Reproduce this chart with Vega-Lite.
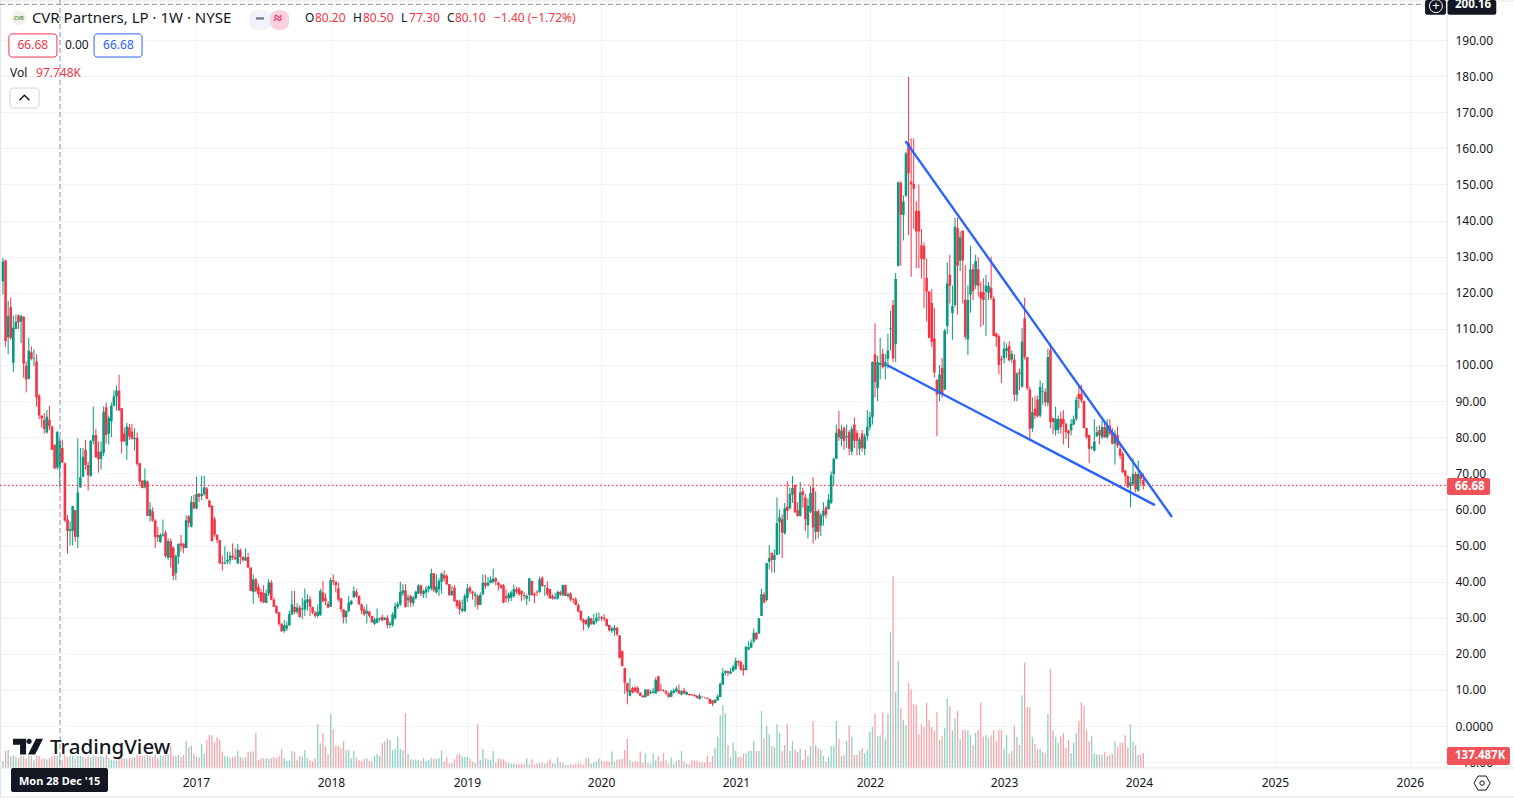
{
"$schema":"https://vega.github.io/schema/vega-lite/v6.json",
"width":1447,"height":768,
"autosize":{"type":"none"},
"padding":{"left":0,"top":0,"right":67,"bottom":41},
"background":"#ffffff",
"config":{"view":{"stroke":null},"font":"Noto Sans","text":{"font":"Noto Sans"}},
"datasets":{
"bars":[
{"w":0,"o":123.2,"h":129.7,"l":119.5,"c":128.7,"v":65},{"w":1,"o":129,"h":129.2,"l":105,"c":106.6,"v":155},{"w":2,"o":107.7,"h":117.7,"l":103,"c":113.5,"v":165},{"w":3,"o":116,"h":118.6,"l":107,"c":107.5,"v":110},{"w":4,"o":100.6,"h":113.7,"l":98,"c":110.3,"v":115},{"w":5,"o":110,"h":114,"l":110,"c":112,"v":105},{"w":6,"o":113.7,"h":114,"l":110,"c":111.8,"v":90},{"w":7,"o":112,"h":114,"l":106,"c":113.5,"v":115},{"w":8,"o":113.4,"h":113.4,"l":96.5,"c":100.4,"v":110},{"w":9,"o":99.8,"h":101,"l":92.4,"c":96,"v":90},
{"w":10,"o":96.2,"h":107.5,"l":96,"c":104,"v":115},{"w":11,"o":103.5,"h":105.2,"l":101.3,"c":101.7,"v":110},{"w":12,"o":101.6,"h":104.3,"l":99.6,"c":101.8,"v":70},{"w":13,"o":101,"h":103,"l":88.5,"c":91,"v":110},{"w":14,"o":91.5,"h":92,"l":85,"c":86,"v":110},{"w":15,"o":86,"h":86,"l":82.7,"c":85.2,"v":80},{"w":16,"o":84.8,"h":86.7,"l":81,"c":82.3,"v":90},{"w":17,"o":81.3,"h":87.5,"l":81,"c":85.7,"v":80},{"w":18,"o":84.8,"h":88.7,"l":82,"c":83,"v":90},{"w":19,"o":83,"h":83,"l":76.5,"c":76.5,"v":110},
{"w":20,"o":77.9,"h":77.9,"l":71.3,"c":71.3,"v":115},{"w":21,"o":71.6,"h":81.7,"l":71,"c":81.4,"v":110},{"w":22,"o":71.5,"h":80,"l":66,"c":79,"v":115},{"w":23,"o":77,"h":79.3,"l":72.8,"c":73,"v":70},{"w":24,"o":72.8,"h":73,"l":56.5,"c":56.9,"v":120},{"w":25,"o":57.2,"h":58.4,"l":47.8,"c":54,"v":100},{"w":26,"o":54,"h":56.7,"l":50,"c":54.5,"v":115},{"w":27,"o":54.1,"h":61,"l":50,"c":60.9,"v":110},{"w":28,"o":59.8,"h":59.8,"l":51,"c":52.4,"v":80},{"w":29,"o":52.4,"h":79.7,"l":49.3,"c":64.7,"v":110},
{"w":30,"o":66.1,"h":77,"l":66,"c":68.9,"v":110},{"w":31,"o":69,"h":77,"l":68.9,"c":74.6,"v":105},{"w":32,"o":76.5,"h":79.3,"l":71,"c":72.3,"v":90},{"w":33,"o":72.3,"h":73.2,"l":65.2,"c":69.5,"v":110},{"w":34,"o":69.3,"h":79.2,"l":69,"c":79,"v":100},{"w":35,"o":79,"h":88.5,"l":78,"c":80.6,"v":115},{"w":36,"o":80.6,"h":82.3,"l":74.2,"c":74.5,"v":110},{"w":37,"o":76,"h":78.8,"l":70.2,"c":73.9,"v":100},{"w":38,"o":74,"h":78.8,"l":71,"c":76,"v":110},{"w":39,"o":75.7,"h":88.5,"l":74.8,"c":87,"v":95},
{"w":40,"o":88.3,"h":89.6,"l":78.3,"c":80.6,"v":120},{"w":41,"o":81,"h":86,"l":78,"c":85.3,"v":90},{"w":42,"o":84.4,"h":89.6,"l":80,"c":88.7,"v":75},{"w":43,"o":88.7,"h":93,"l":88.5,"c":91.3,"v":70},{"w":44,"o":91.3,"h":94.3,"l":87.4,"c":92.9,"v":70},{"w":45,"o":92.9,"h":97.3,"l":87.4,"c":87.4,"v":85},{"w":46,"o":88,"h":88,"l":75.5,"c":78.8,"v":90},{"w":47,"o":81,"h":82.7,"l":78.8,"c":78.8,"v":90},{"w":48,"o":77.7,"h":84,"l":73.7,"c":83,"v":85},{"w":49,"o":82.7,"h":83.7,"l":79.3,"c":80.2,"v":90},
{"w":50,"o":81.6,"h":83.7,"l":79.3,"c":79.6,"v":90},{"w":51,"o":79.5,"h":82.5,"l":76.3,"c":79.8,"v":100},{"w":52,"o":79.8,"h":81.3,"l":72,"c":72.6,"v":120},{"w":53,"o":72.8,"h":72.8,"l":66.7,"c":67.7,"v":110},{"w":54,"o":68,"h":68,"l":65.9,"c":65.9,"v":115},{"w":55,"o":66.1,"h":71.4,"l":65.8,"c":68.1,"v":110},{"w":56,"o":67.7,"h":68,"l":58.2,"c":58.2,"v":120},{"w":57,"o":58.2,"h":62,"l":56.6,"c":60,"v":110},{"w":58,"o":59.5,"h":60.6,"l":56.6,"c":56.9,"v":100},{"w":59,"o":56.9,"h":57.3,"l":49.3,"c":52.4,"v":120},
{"w":60,"o":52.9,"h":55.2,"l":51,"c":52.2,"v":90},{"w":61,"o":51,"h":53.4,"l":50.7,"c":52.9,"v":115},{"w":62,"o":52.7,"h":57.2,"l":52.4,"c":53.1,"v":110},{"w":63,"o":53.6,"h":54.2,"l":46.6,"c":47.1,"v":120},{"w":64,"o":46.6,"h":52,"l":46,"c":51.2,"v":120},{"w":65,"o":51.2,"h":52,"l":43.9,"c":46.6,"v":200},{"w":66,"o":49.4,"h":49.8,"l":40.4,"c":41.6,"v":110},{"w":67,"o":42.4,"h":47.5,"l":40.4,"c":47,"v":110},{"w":68,"o":46.9,"h":50.6,"l":44.8,"c":50.4,"v":120},{"w":69,"o":50.6,"h":52.9,"l":48.3,"c":50,"v":100},
{"w":70,"o":50.5,"h":50.6,"l":47.9,"c":49.3,"v":120},{"w":71,"o":49.3,"h":58.4,"l":49.3,"c":57,"v":245},{"w":72,"o":58.1,"h":58.4,"l":55,"c":56.3,"v":190},{"w":73,"o":55.2,"h":63.7,"l":55,"c":62.1,"v":205},{"w":74,"o":62,"h":64,"l":60,"c":60.3,"v":130},{"w":75,"o":60.3,"h":69,"l":60,"c":64.3,"v":100},{"w":76,"o":64.4,"h":64.4,"l":62,"c":63.5,"v":95},{"w":77,"o":63.7,"h":69.3,"l":62.5,"c":64.3,"v":215},{"w":78,"o":64.2,"h":69.3,"l":63.8,"c":66.1,"v":130},{"w":79,"o":65.8,"h":66.2,"l":62.9,"c":62.9,"v":255},
{"w":80,"o":62.4,"h":62.7,"l":60.5,"c":60.7,"v":300},{"w":81,"o":61,"h":61.2,"l":51,"c":51.3,"v":300},{"w":82,"o":57.3,"h":58,"l":52.4,"c":53,"v":235},{"w":83,"o":53,"h":53,"l":50.7,"c":51.5,"v":280},{"w":84,"o":51.5,"h":51.5,"l":45,"c":45,"v":255},{"w":85,"o":45.3,"h":47.3,"l":43,"c":45,"v":150},{"w":86,"o":45,"h":49.8,"l":44.8,"c":45.3,"v":110},{"w":87,"o":45.5,"h":48.3,"l":44.8,"c":46,"v":105},{"w":88,"o":45.9,"h":48.3,"l":44.8,"c":47.2,"v":90},{"w":89,"o":47.2,"h":50.6,"l":46,"c":46.7,"v":100},
{"w":90,"o":46.7,"h":49.2,"l":46,"c":46.2,"v":110},{"w":91,"o":45,"h":50.4,"l":45,"c":48.9,"v":155},{"w":92,"o":48.7,"h":49.2,"l":44.8,"c":46.8,"v":100},{"w":93,"o":46.8,"h":47,"l":45.5,"c":46,"v":90},{"w":94,"o":45.8,"h":49.2,"l":45.7,"c":46.7,"v":100},{"w":95,"o":46.8,"h":48,"l":43.7,"c":43.9,"v":145},{"w":96,"o":43.9,"h":43.9,"l":37.4,"c":37.4,"v":150},{"w":97,"o":37.1,"h":42,"l":33.9,"c":40.6,"v":150},{"w":98,"o":40.6,"h":41,"l":37,"c":37.5,"v":320},{"w":99,"o":38.5,"h":39.5,"l":35.5,"c":36.5,"v":75},
{"w":100,"o":37.1,"h":38,"l":34,"c":34.6,"v":90},{"w":101,"o":36.9,"h":39,"l":34,"c":34.3,"v":90},{"w":102,"o":34.1,"h":37.8,"l":34,"c":36.7,"v":90},{"w":103,"o":36.7,"h":40.6,"l":36,"c":39.8,"v":85},{"w":104,"o":39.7,"h":40.4,"l":34.8,"c":35,"v":90},{"w":105,"o":35,"h":35.5,"l":33,"c":33,"v":100},{"w":106,"o":33.2,"h":33.4,"l":31,"c":31.3,"v":90},{"w":107,"o":31.5,"h":31.5,"l":27.7,"c":28.3,"v":110},{"w":108,"o":28.3,"h":28.5,"l":26,"c":26.3,"v":170},{"w":109,"o":26.3,"h":29.3,"l":25.8,"c":27.9,"v":90},
{"w":110,"o":27,"h":29,"l":26.3,"c":27.9,"v":65},{"w":111,"o":27.9,"h":32,"l":27.7,"c":31,"v":70},{"w":112,"o":30.9,"h":37.4,"l":30.7,"c":33.7,"v":155},{"w":113,"o":33,"h":37.4,"l":31,"c":31.6,"v":145},{"w":114,"o":31.6,"h":34,"l":31,"c":32.8,"v":70},{"w":115,"o":32.8,"h":33.5,"l":30,"c":30.2,"v":110},{"w":116,"o":32.3,"h":35.5,"l":29.6,"c":32.6,"v":100},{"w":117,"o":32.3,"h":38.1,"l":30.5,"c":34.8,"v":165},{"w":118,"o":34.2,"h":36.5,"l":31.9,"c":35.1,"v":90},{"w":119,"o":35.1,"h":36,"l":30.5,"c":33,"v":70},
{"w":120,"o":33,"h":33,"l":31,"c":31.4,"v":60},{"w":121,"o":31.4,"h":31.9,"l":30,"c":30.5,"v":90},{"w":122,"o":30.5,"h":33.7,"l":30,"c":31.7,"v":400},{"w":123,"o":30.7,"h":38,"l":30.5,"c":37.4,"v":225},{"w":124,"o":37,"h":40.2,"l":34.2,"c":34.6,"v":320},{"w":125,"o":35.5,"h":36.7,"l":33.5,"c":34.6,"v":200},{"w":126,"o":33.9,"h":34.6,"l":32.6,"c":32.8,"v":125},{"w":127,"o":33,"h":41,"l":33,"c":40.4,"v":490},{"w":128,"o":40.4,"h":42,"l":39,"c":40,"v":355},{"w":129,"o":40,"h":40,"l":37,"c":39,"v":200},
{"w":130,"o":38.1,"h":39.7,"l":34.5,"c":35,"v":200},{"w":131,"o":35.4,"h":35.4,"l":31.5,"c":32.3,"v":180},{"w":132,"o":32.3,"h":32.3,"l":28.4,"c":30,"v":245},{"w":133,"o":30.2,"h":32,"l":28.4,"c":31.9,"v":165},{"w":134,"o":31.9,"h":36,"l":31.5,"c":34.2,"v":165},{"w":135,"o":33.7,"h":35,"l":33.5,"c":34.6,"v":90},{"w":136,"o":35.7,"h":38.6,"l":35.5,"c":37.4,"v":155},{"w":137,"o":37.2,"h":37.9,"l":35.5,"c":36,"v":90},{"w":138,"o":36.1,"h":36.1,"l":33.5,"c":33.7,"v":70},{"w":139,"o":33.7,"h":33.9,"l":31,"c":32,"v":60},
{"w":140,"o":32.3,"h":33,"l":30.5,"c":30.9,"v":85},{"w":141,"o":31.1,"h":33.7,"l":28.4,"c":31.9,"v":90},{"w":142,"o":31.7,"h":32,"l":30,"c":30.5,"v":65},{"w":143,"o":30.5,"h":30.5,"l":28.7,"c":28.7,"v":60},{"w":144,"o":28.3,"h":30,"l":28,"c":29.5,"v":110},{"w":145,"o":28.6,"h":32.6,"l":28.4,"c":29.8,"v":130},{"w":146,"o":29.6,"h":30,"l":29,"c":29.9,"v":110},{"w":147,"o":30.2,"h":30.9,"l":29,"c":29.3,"v":225},{"w":148,"o":29.4,"h":30.2,"l":29.3,"c":30,"v":245},{"w":149,"o":30,"h":30.7,"l":27,"c":28,"v":270},
{"w":150,"o":27.9,"h":29,"l":27.2,"c":28.4,"v":255},{"w":151,"o":28,"h":31.5,"l":27.5,"c":30.9,"v":165},{"w":152,"o":29.8,"h":34.2,"l":29.5,"c":33.2,"v":175},{"w":153,"o":33,"h":34.5,"l":32.5,"c":33.8,"v":285},{"w":154,"o":33.7,"h":40,"l":33.2,"c":37.2,"v":175},{"w":155,"o":36.7,"h":39.3,"l":36,"c":37.6,"v":165},{"w":156,"o":37.6,"h":39.3,"l":32.8,"c":33,"v":500},{"w":157,"o":34.8,"h":36.5,"l":33,"c":35.6,"v":130},{"w":158,"o":36,"h":36.4,"l":33,"c":34.2,"v":80},{"w":159,"o":34,"h":36,"l":33.2,"c":35.6,"v":75},
{"w":160,"o":35.4,"h":37.5,"l":35,"c":37.2,"v":80},{"w":161,"o":36.7,"h":39.3,"l":36.5,"c":38.9,"v":75},{"w":162,"o":38.9,"h":39.2,"l":36,"c":36.7,"v":65},{"w":163,"o":36.5,"h":37.8,"l":35.5,"c":37.4,"v":90},{"w":164,"o":37,"h":38.8,"l":35.5,"c":37.9,"v":65},{"w":165,"o":37.9,"h":39,"l":37,"c":38.6,"v":70},{"w":166,"o":38.1,"h":43.6,"l":37.5,"c":42.3,"v":90},{"w":167,"o":42.3,"h":42.4,"l":37,"c":37.6,"v":85},{"w":168,"o":37,"h":42,"l":36.7,"c":38.6,"v":80},{"w":169,"o":37.9,"h":41,"l":36,"c":40.2,"v":90},
{"w":170,"o":40,"h":42.5,"l":36.7,"c":42.2,"v":160},{"w":171,"o":41.8,"h":43.1,"l":40,"c":40.9,"v":60},{"w":172,"o":41.6,"h":42,"l":39,"c":39.3,"v":100},{"w":173,"o":39.3,"h":39.3,"l":36,"c":36.3,"v":40},{"w":174,"o":36.3,"h":38.8,"l":36,"c":37.4,"v":45},{"w":175,"o":38.3,"h":39,"l":34.4,"c":34.6,"v":80},{"w":176,"o":34.8,"h":35,"l":32.5,"c":33.2,"v":120},{"w":177,"o":34.4,"h":35,"l":30.9,"c":32.3,"v":130},{"w":178,"o":31.9,"h":35,"l":31.5,"c":32.5,"v":105},{"w":179,"o":31.9,"h":36.7,"l":31.5,"c":36,"v":100},
{"w":180,"o":35.5,"h":39.3,"l":34.5,"c":38.1,"v":100},{"w":181,"o":38.3,"h":38.8,"l":36.5,"c":37.2,"v":85},{"w":182,"o":37.2,"h":37.5,"l":35,"c":36.7,"v":60},{"w":183,"o":36,"h":37.2,"l":33,"c":36.5,"v":45},{"w":184,"o":36,"h":36.5,"l":32.3,"c":33.5,"v":400},{"w":185,"o":33.5,"h":37,"l":33.5,"c":36.3,"v":70},{"w":186,"o":36.5,"h":42,"l":36.2,"c":39.7,"v":175},{"w":187,"o":39.7,"h":42,"l":38,"c":38.8,"v":90},{"w":188,"o":38.9,"h":41.3,"l":38.7,"c":39.7,"v":80},{"w":189,"o":39.7,"h":41.5,"l":39.5,"c":40.5,"v":70},
{"w":190,"o":39.9,"h":43.6,"l":39.5,"c":40.8,"v":155},{"w":191,"o":40.9,"h":41.2,"l":39,"c":40,"v":50},{"w":192,"o":39.7,"h":40,"l":37.5,"c":39,"v":85},{"w":193,"o":39,"h":39.3,"l":38,"c":38.3,"v":85},{"w":194,"o":39,"h":39.3,"l":34,"c":34.2,"v":80},{"w":195,"o":36,"h":37.9,"l":34.2,"c":35.4,"v":60},{"w":196,"o":35.3,"h":37,"l":34.2,"c":36.5,"v":45},{"w":197,"o":35.6,"h":37.5,"l":34.6,"c":37,"v":40},{"w":198,"o":36,"h":39.2,"l":35.5,"c":37.9,"v":40},{"w":199,"o":37.9,"h":38.6,"l":36.5,"c":37.2,"v":35},
{"w":200,"o":38.1,"h":38.5,"l":36,"c":36.5,"v":35},{"w":201,"o":37.4,"h":37.6,"l":34.6,"c":36.5,"v":40},{"w":202,"o":36.3,"h":37,"l":35,"c":36,"v":35},{"w":203,"o":35.3,"h":36.5,"l":33.5,"c":36,"v":90},{"w":204,"o":36.3,"h":41,"l":34.5,"c":40.9,"v":35},{"w":205,"o":40.2,"h":40.2,"l":36,"c":36.3,"v":80},{"w":206,"o":36.6,"h":37,"l":34,"c":36.2,"v":30},{"w":207,"o":37.2,"h":37.6,"l":36,"c":37,"v":40},{"w":208,"o":37.1,"h":41.4,"l":36.9,"c":40.6,"v":45},{"w":209,"o":41.1,"h":41.5,"l":38.5,"c":38.8,"v":50},
{"w":210,"o":38.8,"h":39,"l":36,"c":39,"v":40},{"w":211,"o":38.3,"h":40,"l":36,"c":36.5,"v":50},{"w":212,"o":37.9,"h":38,"l":35.3,"c":35.3,"v":80},{"w":213,"o":36,"h":36.5,"l":35,"c":35.3,"v":45},{"w":214,"o":35.3,"h":36.8,"l":35,"c":35.7,"v":40},{"w":215,"o":35.3,"h":37.5,"l":35,"c":37.1,"v":95},{"w":216,"o":37.1,"h":37.5,"l":36,"c":36.5,"v":55},{"w":217,"o":36.3,"h":39.2,"l":36,"c":39,"v":45},{"w":218,"o":39,"h":39.2,"l":36,"c":36,"v":30},{"w":219,"o":36,"h":37,"l":35.5,"c":36.5,"v":30},
{"w":220,"o":36.7,"h":37,"l":34.5,"c":35.1,"v":35},{"w":221,"o":35.2,"h":35.5,"l":34,"c":35,"v":30},{"w":222,"o":35.1,"h":35.7,"l":33.5,"c":33.5,"v":40},{"w":223,"o":33.5,"h":34,"l":31.5,"c":31.7,"v":40},{"w":224,"o":31.9,"h":32,"l":29,"c":29.4,"v":40},{"w":225,"o":29.4,"h":29.8,"l":26.5,"c":28.6,"v":30},{"w":226,"o":29.4,"h":29.6,"l":28,"c":28.2,"v":90},{"w":227,"o":27.5,"h":30.5,"l":27,"c":30,"v":90},{"w":228,"o":29.8,"h":30,"l":28,"c":28.2,"v":40},{"w":229,"o":28.2,"h":31.1,"l":28,"c":29.1,"v":50},
{"w":230,"o":29,"h":31.4,"l":28.5,"c":30,"v":60},{"w":231,"o":30,"h":31.4,"l":29,"c":30.2,"v":90},{"w":232,"o":30.2,"h":30.5,"l":29,"c":29.8,"v":70},{"w":233,"o":30,"h":31,"l":29,"c":29.6,"v":60},{"w":234,"o":29.6,"h":29.8,"l":27.5,"c":27.7,"v":65},{"w":235,"o":28,"h":28,"l":26.2,"c":26.5,"v":55},{"w":236,"o":26.4,"h":27.6,"l":25.8,"c":27,"v":150},{"w":237,"o":26.5,"h":28,"l":25,"c":27.2,"v":60},{"w":238,"o":27.2,"h":27.5,"l":24.9,"c":25.4,"v":75},{"w":239,"o":25.1,"h":25.1,"l":18.7,"c":18.9,"v":80},
{"w":240,"o":20.7,"h":21,"l":16.5,"c":16.6,"v":85},{"w":241,"o":16,"h":16.2,"l":8.9,"c":12,"v":165},{"w":242,"o":11.9,"h":12,"l":6,"c":9.5,"v":265},{"w":243,"o":8.4,"h":13.3,"l":8.2,"c":10,"v":75},{"w":244,"o":10.5,"h":10.8,"l":9,"c":9.3,"v":55},{"w":245,"o":10.6,"h":11,"l":9.3,"c":9.6,"v":60},{"w":246,"o":10.6,"h":11,"l":9,"c":9.2,"v":55},{"w":247,"o":9.2,"h":9.4,"l":8.2,"c":8.4,"v":150},{"w":248,"o":8.4,"h":8.6,"l":7.8,"c":8,"v":50},{"w":249,"o":8,"h":10.2,"l":7.9,"c":10.1,"v":130},
{"w":250,"o":10.1,"h":10.2,"l":8.4,"c":8.4,"v":50},{"w":251,"o":9.1,"h":10,"l":8.8,"c":9.4,"v":40},{"w":252,"o":9.2,"h":10.5,"l":9,"c":9.6,"v":135},{"w":253,"o":9,"h":13.5,"l":9,"c":12.7,"v":70},{"w":254,"o":13.8,"h":13.8,"l":9.5,"c":9.6,"v":110},{"w":255,"o":10.1,"h":11.7,"l":9.7,"c":9.9,"v":60},{"w":256,"o":9.9,"h":10.2,"l":9.5,"c":9.7,"v":135},{"w":257,"o":9.6,"h":10,"l":8.6,"c":9,"v":70},{"w":258,"o":9,"h":9.3,"l":7.8,"c":8.1,"v":40},{"w":259,"o":8.1,"h":10,"l":8,"c":9.6,"v":95},
{"w":260,"o":9.2,"h":10.4,"l":9,"c":9.8,"v":40},{"w":261,"o":9.6,"h":11,"l":9.4,"c":10.4,"v":60},{"w":262,"o":9.9,"h":11.5,"l":8.8,"c":9,"v":75},{"w":263,"o":8.7,"h":10,"l":8.5,"c":9.6,"v":155},{"w":264,"o":9.9,"h":10.6,"l":8.8,"c":9,"v":60},{"w":265,"o":8.7,"h":9.6,"l":8.6,"c":9.4,"v":40},{"w":266,"o":8.9,"h":9,"l":8.4,"c":8.6,"v":35},{"w":267,"o":8.7,"h":8.9,"l":8.3,"c":8.5,"v":70},{"w":268,"o":8.6,"h":8.9,"l":8.1,"c":8.3,"v":70},{"w":269,"o":8.4,"h":8.5,"l":7.6,"c":7.8,"v":65},
{"w":270,"o":7.5,"h":9,"l":7.3,"c":8.4,"v":50},{"w":271,"o":8.1,"h":8.2,"l":7.8,"c":8,"v":55},{"w":272,"o":7.9,"h":8,"l":7.6,"c":7.8,"v":50},{"w":273,"o":7.8,"h":7.9,"l":7.4,"c":7.6,"v":110},{"w":274,"o":7.5,"h":7.6,"l":6.2,"c":6.2,"v":55},{"w":275,"o":7.1,"h":7.2,"l":5.5,"c":6.2,"v":110},{"w":276,"o":6.4,"h":7.4,"l":6.2,"c":7.3,"v":185},{"w":277,"o":7.1,"h":8.8,"l":7,"c":8.2,"v":285},{"w":278,"o":8,"h":12,"l":8,"c":11.7,"v":485},{"w":279,"o":11.5,"h":16,"l":11.4,"c":14.7,"v":575},
{"w":280,"o":14.7,"h":15.5,"l":14,"c":15.2,"v":500},{"w":281,"o":15.2,"h":15.4,"l":13.8,"c":14.7,"v":210},{"w":282,"o":14.5,"h":16,"l":14.3,"c":15.1,"v":100},{"w":283,"o":15.2,"h":17,"l":15,"c":16.4,"v":230},{"w":284,"o":15.8,"h":18.9,"l":15.5,"c":18,"v":155},{"w":285,"o":18,"h":18.2,"l":16.5,"c":17.6,"v":100},{"w":286,"o":17.7,"h":18.2,"l":15.3,"c":15.6,"v":100},{"w":287,"o":16,"h":17,"l":14,"c":15.4,"v":130},{"w":288,"o":15.5,"h":22,"l":15.4,"c":22,"v":135},{"w":289,"o":21.2,"h":23.5,"l":21,"c":21.8,"v":155},
{"w":290,"o":21.7,"h":24,"l":21.5,"c":23.1,"v":155},{"w":291,"o":23.4,"h":27,"l":23,"c":25.8,"v":245},{"w":292,"o":25.8,"h":26,"l":23.8,"c":24.1,"v":155},{"w":293,"o":25.6,"h":30,"l":25.5,"c":29.8,"v":155},{"w":294,"o":30.5,"h":38,"l":30.5,"c":36.5,"v":520},{"w":295,"o":36.5,"h":37.1,"l":34,"c":34.2,"v":275},{"w":296,"o":34.9,"h":45.2,"l":34.5,"c":45.1,"v":385},{"w":297,"o":45.5,"h":50.1,"l":43.4,"c":46.5,"v":310},{"w":298,"o":48,"h":48,"l":42.5,"c":46,"v":200},{"w":299,"o":46,"h":49,"l":42.5,"c":47.3,"v":190},
{"w":300,"o":47.4,"h":63.3,"l":47.3,"c":56.2,"v":400},{"w":301,"o":56.4,"h":60,"l":47.6,"c":57.8,"v":320},{"w":302,"o":57.3,"h":58.6,"l":46.5,"c":53.6,"v":155},{"w":303,"o":53.4,"h":61.8,"l":53,"c":60.3,"v":210},{"w":304,"o":60.8,"h":67.7,"l":57,"c":59.6,"v":400},{"w":305,"o":60.3,"h":66,"l":60,"c":64.3,"v":155},{"w":306,"o":64.1,"h":69.2,"l":61.8,"c":65.9,"v":245},{"w":307,"o":66.7,"h":66.9,"l":59,"c":59.2,"v":165},{"w":308,"o":59.8,"h":62,"l":58,"c":58.2,"v":145},{"w":309,"o":58.2,"h":67.6,"l":58,"c":64.7,"v":175},
{"w":310,"o":65,"h":66,"l":60.5,"c":64,"v":75},{"w":311,"o":63.3,"h":64.3,"l":54,"c":57.3,"v":165},{"w":312,"o":55.6,"h":63,"l":52,"c":61,"v":110},{"w":313,"o":59.4,"h":66.5,"l":59,"c":64.5,"v":200},{"w":314,"o":66,"h":68.9,"l":50.5,"c":55,"v":430},{"w":315,"o":53.8,"h":65,"l":51.5,"c":59.5,"v":210},{"w":316,"o":59.5,"h":60,"l":52,"c":53.8,"v":180},{"w":317,"o":55.5,"h":59,"l":52.7,"c":58.4,"v":165},{"w":318,"o":58.2,"h":62,"l":55.5,"c":59.6,"v":110},{"w":319,"o":60.5,"h":61,"l":57.5,"c":58.5,"v":55},
{"w":320,"o":60.1,"h":64.3,"l":60,"c":62.7,"v":100},{"w":321,"o":61.8,"h":70.5,"l":61.5,"c":69.5,"v":200},{"w":322,"o":69.8,"h":74.4,"l":66.5,"c":74,"v":200},{"w":323,"o":74,"h":83.5,"l":74,"c":81.2,"v":430},{"w":324,"o":82.3,"h":87.3,"l":79,"c":80,"v":265},{"w":325,"o":79.5,"h":83.5,"l":77.5,"c":81.8,"v":110},{"w":326,"o":82.6,"h":83,"l":76.5,"c":79,"v":120},{"w":327,"o":80,"h":83.5,"l":77,"c":80.3,"v":245},{"w":328,"o":81.4,"h":82,"l":75,"c":76.8,"v":390},{"w":329,"o":76,"h":83,"l":75,"c":82.3,"v":285},
{"w":330,"o":83.5,"h":85.5,"l":77,"c":79,"v":120},{"w":331,"o":81.2,"h":82,"l":75,"c":79,"v":120},{"w":332,"o":76.8,"h":80,"l":75,"c":79.4,"v":155},{"w":333,"o":81,"h":82,"l":76,"c":77,"v":180},{"w":334,"o":76.8,"h":81,"l":75,"c":80.2,"v":135},{"w":335,"o":80.3,"h":87.5,"l":79,"c":82.8,"v":165},{"w":336,"o":82.8,"h":87,"l":82,"c":85.6,"v":330},{"w":337,"o":85.6,"h":101,"l":83.5,"c":100.8,"v":375},{"w":338,"o":102.9,"h":111.5,"l":91,"c":95.3,"v":495},{"w":339,"o":93.6,"h":102.5,"l":90,"c":100.8,"v":290},
{"w":340,"o":100,"h":107.5,"l":96,"c":100.5,"v":300},{"w":341,"o":103.1,"h":104.5,"l":99,"c":99.4,"v":510},{"w":342,"o":99.6,"h":103,"l":96,"c":100.8,"v":265},{"w":343,"o":101.7,"h":108.7,"l":99,"c":104,"v":495},{"w":344,"o":110,"h":115,"l":104,"c":110.2,"v":1240},{"w":345,"o":116.6,"h":118,"l":100.8,"c":101.8,"v":1753},{"w":346,"o":105.9,"h":125.5,"l":100.8,"c":123.8,"v":695},{"w":347,"o":127.5,"h":150.8,"l":127.3,"c":150.6,"v":975},{"w":348,"o":150.4,"h":151,"l":127.5,"c":141.6,"v":550},{"w":349,"o":141.6,"h":147,"l":134.5,"c":145.3,"v":440},
{"w":350,"o":146.9,"h":159,"l":146.5,"c":158.6,"v":390},{"w":351,"o":161.5,"h":179.8,"l":136,"c":153.1,"v":775},{"w":352,"o":150.8,"h":162.8,"l":124.4,"c":150,"v":720},{"w":353,"o":150.1,"h":162.8,"l":137.7,"c":148.8,"v":585},{"w":354,"o":142.7,"h":145.3,"l":126.8,"c":137,"v":575},{"w":355,"o":142.7,"h":150,"l":126.8,"c":137,"v":310},{"w":356,"o":133.2,"h":137.6,"l":124,"c":129.4,"v":400},{"w":357,"o":133,"h":134,"l":115.8,"c":129.3,"v":375},{"w":358,"o":124.2,"h":129.5,"l":112,"c":120.3,"v":595},{"w":359,"o":120.3,"h":120.5,"l":107.4,"c":107.5,"v":440},
{"w":360,"o":117.2,"h":121,"l":105,"c":106.4,"v":375},{"w":361,"o":107.3,"h":115.8,"l":96.5,"c":97.9,"v":340},{"w":362,"o":95.9,"h":96,"l":80.3,"c":91.8,"v":510},{"w":363,"o":92,"h":100,"l":90,"c":97.3,"v":255},{"w":364,"o":99.2,"h":102,"l":91,"c":92,"v":290},{"w":365,"o":93.2,"h":110,"l":93,"c":109.5,"v":365},{"w":366,"o":110.8,"h":128.4,"l":108.5,"c":122.6,"v":630},{"w":367,"o":125,"h":130.5,"l":117,"c":122,"v":565},{"w":368,"o":114.4,"h":122,"l":107,"c":116.3,"v":340},{"w":369,"o":116.6,"h":140.8,"l":116,"c":138.3,"v":455},
{"w":370,"o":137.9,"h":140.8,"l":114,"c":127.5,"v":520},{"w":371,"o":128.9,"h":137,"l":126,"c":135.4,"v":265},{"w":372,"o":137.2,"h":137.3,"l":117,"c":129,"v":345},{"w":373,"o":118.1,"h":127.6,"l":107,"c":107.8,"v":345},{"w":374,"o":107.1,"h":122,"l":102.7,"c":118,"v":345},{"w":375,"o":119.5,"h":133,"l":114.5,"c":126.5,"v":300},{"w":376,"o":126.5,"h":128,"l":118,"c":120.5,"v":210},{"w":377,"o":122.1,"h":130.5,"l":121,"c":128.8,"v":320},{"w":378,"o":126.5,"h":129.8,"l":119,"c":121.9,"v":345},{"w":379,"o":120.3,"h":123,"l":110.5,"c":118.4,"v":595},
{"w":380,"o":120.2,"h":124,"l":111,"c":118,"v":285},{"w":381,"o":120.3,"h":125,"l":108,"c":122,"v":300},{"w":382,"o":120,"h":123,"l":118,"c":121.9,"v":275},{"w":383,"o":121.4,"h":130,"l":118,"c":118.6,"v":300},{"w":384,"o":118.4,"h":119,"l":108,"c":108,"v":345},{"w":385,"o":108.7,"h":109,"l":105,"c":107.8,"v":245},{"w":386,"o":108,"h":108.5,"l":97.5,"c":100,"v":345},{"w":387,"o":101.6,"h":102.5,"l":95,"c":101.3,"v":345},{"w":388,"o":101.8,"h":106.5,"l":100.5,"c":104.5,"v":175},{"w":389,"o":103.9,"h":106,"l":102,"c":104.7,"v":300},
{"w":390,"o":105.3,"h":106.6,"l":101,"c":101.3,"v":130},{"w":391,"o":101.5,"h":104,"l":100.5,"c":103.1,"v":155},{"w":392,"o":101.5,"h":103,"l":90,"c":91.8,"v":385},{"w":393,"o":91.8,"h":98,"l":90,"c":97.6,"v":285},{"w":394,"o":97.9,"h":99,"l":93,"c":97.5,"v":210},{"w":395,"o":94,"h":110.2,"l":93.7,"c":106.5,"v":665},{"w":396,"o":112.9,"h":118.6,"l":101.5,"c":102.2,"v":960},{"w":397,"o":102.2,"h":102.2,"l":93,"c":93.6,"v":555},{"w":398,"o":93.2,"h":94,"l":79,"c":82.3,"v":555},{"w":399,"o":82.5,"h":91,"l":81.5,"c":86.9,"v":285},
{"w":400,"o":87.9,"h":91.5,"l":85,"c":86,"v":220},{"w":401,"o":90.4,"h":91.5,"l":85.5,"c":85.8,"v":175},{"w":402,"o":86,"h":95.7,"l":85.5,"c":93.9,"v":175},{"w":403,"o":92.5,"h":95,"l":89,"c":92.7,"v":145},{"w":404,"o":92.5,"h":93.5,"l":88.5,"c":89.7,"v":135},{"w":405,"o":89.5,"h":104.5,"l":88.5,"c":102.2,"v":495},{"w":406,"o":104.1,"h":106,"l":82.5,"c":84.2,"v":905},{"w":407,"o":85.3,"h":85.5,"l":80.8,"c":84.2,"v":340},{"w":408,"o":81.9,"h":88.5,"l":80.5,"c":85.1,"v":285},{"w":409,"o":82.1,"h":86,"l":81,"c":85.1,"v":230},
{"w":410,"o":85.1,"h":87,"l":81,"c":82.8,"v":285},{"w":411,"o":85.1,"h":87.5,"l":78,"c":83.7,"v":320},{"w":412,"o":83.7,"h":84,"l":79.5,"c":81.4,"v":185},{"w":413,"o":81.9,"h":82,"l":77,"c":81,"v":255},{"w":414,"o":81.9,"h":85,"l":80.5,"c":83.7,"v":135},{"w":415,"o":83.5,"h":86,"l":83.3,"c":85,"v":230},{"w":416,"o":85.1,"h":91.3,"l":84.5,"c":90.4,"v":320},{"w":417,"o":92,"h":94.7,"l":88,"c":90.6,"v":430},{"w":418,"o":92,"h":94.5,"l":89.5,"c":90.2,"v":600},{"w":419,"o":90,"h":90.2,"l":82.4,"c":82.5,"v":565},
{"w":420,"o":82.5,"h":82.6,"l":79.5,"c":80,"v":345},{"w":421,"o":80.6,"h":80.7,"l":72.8,"c":76.8,"v":245},{"w":422,"o":77,"h":77.5,"l":76.5,"c":77.2,"v":290},{"w":423,"o":76.3,"h":85,"l":76,"c":78.8,"v":135},{"w":424,"o":80.3,"h":83,"l":80,"c":81.4,"v":120},{"w":425,"o":81.9,"h":83.3,"l":78,"c":80.5,"v":120},{"w":426,"o":80,"h":84.5,"l":79.5,"c":82.8,"v":120},{"w":427,"o":82.8,"h":84,"l":79.8,"c":80,"v":145},{"w":428,"o":80,"h":85,"l":79.5,"c":83.2,"v":110},{"w":429,"o":83.2,"h":85,"l":80.5,"c":81,"v":120},
{"w":430,"o":81.4,"h":82.5,"l":78,"c":78.2,"v":130},{"w":431,"o":78.2,"h":82,"l":72.4,"c":81,"v":245},{"w":432,"o":80.6,"h":83,"l":77,"c":77.7,"v":190},{"w":433,"o":76.8,"h":78,"l":74,"c":74.9,"v":230},{"w":434,"o":75.4,"h":76,"l":70,"c":70.3,"v":230},{"w":435,"o":70.7,"h":71,"l":67,"c":69.2,"v":300},{"w":436,"o":69.2,"h":69.5,"l":66,"c":66.1,"v":190},{"w":437,"o":66.4,"h":69,"l":60.6,"c":67.5,"v":400},{"w":438,"o":67,"h":74.2,"l":66.6,"c":69.8,"v":245},{"w":439,"o":69.8,"h":70.5,"l":64.7,"c":65.6,"v":210},
{"w":440,"o":65.2,"h":73.5,"l":64.9,"c":69.8,"v":120},{"w":441,"o":69.8,"h":70.3,"l":67,"c":68.4,"v":120},{"w":442,"o":68.1,"h":69.9,"l":65.5,"c":66.7,"v":137}
],
"trend":[{"line":"upper","w":349.8,"p":162},{"line":"upper","w":453.1,"p":57.9},{"line":"lower","w":342.6,"p":100},{"line":"lower","w":446.5,"p":61.2}],
"priceLine":[{"w":-1.16,"p":66.68},{"w":559.7,"p":66.68}],
"crosshair":[{"part":"v","w":22.1,"p":201.1},{"part":"v","w":22.1,"p":-11.63},{"part":"h","w":-1.16,"p":199.9},{"part":"h","w":551,"p":199.9}],
"frame":[{"part":"bottom","w":-1.16,"p":-11.63},{"part":"bottom","w":585.7,"p":-11.63},{"part":"foot","w":-1.16,"p":-19.7},{"part":"foot","w":585.7,"p":-19.7},{"part":"side","w":559.7,"p":201.1},{"part":"side","w":559.7,"p":-11.63},{"part":"left","w":-1,"p":201.1},{"part":"left","w":-1,"p":-19.7},{"part":"top","w":-1.16,"p":200.8},{"part":"top","w":585.7,"p":200.8}],
"tagsRed":[{"w":559.7,"w2":576.4,"p":68.7,"p2":64},{"w":559.7,"w2":584.1,"p":-5.8,"p2":-10.8}],
"tagsDark":[{"w":559.9,"w2":578.8,"p":201.1,"p2":197},{"w":551.2,"w2":559.3,"p":201.1,"p2":197},{"w":3.1,"w2":40.7,"p":-11.63,"p2":-18.3}],
"boxes":[{"box":"red","w":2.3,"w2":20.9,"p":191.7,"p2":185.3},{"box":"blue","w":35.3,"w2":53.9,"p":191.7,"p2":185.3},{"box":"grey","w":2.7,"w2":14,"p":176.7,"p2":171.2}],
"pillGrey":[{"w":95.3,"w2":104.5,"p":198.3,"p2":192.8}],
"pillPink":[{"w":103.5,"w2":110.9,"p":198.3,"p2":192.8}],
"title":[{"label":"CVR Partners, LP · 1W · NYSE","w":11.2,"p":196.1}],
"textDark":[{"label":"O","w":117.1,"p":196.1},{"label":"H","w":135.7,"p":196.1},{"label":"L","w":154.3,"p":196.1},{"label":"C","w":172.1,"p":196.1},{"label":"0.00","w":24,"p":188.6},{"label":"Vol","w":2.7,"p":180.9}],
"textRed":[{"label":"80.20","w":120.9,"p":196.1},{"label":"80.50","w":139.5,"p":196.1},{"label":"77.30","w":157.4,"p":196.1},{"label":"80.10","w":175.2,"p":196.1},{"label":"−1.40 (−1.72%)","w":190.3,"p":196.1},{"label":"66.68","w":5.6,"p":188.6},{"label":"97.748K","w":12.8,"p":180.9}],
"textBlue":[{"label":"66.68","w":38.8,"p":188.6}],
"textWhite":[{"label":"66.68","w":562.8,"p":66.2},{"label":"137.487K","w":562.8,"p":-8.3},{"label":"200.16","w":562.8,"p":199.6}],
"dateTag":[{"label":"Mon 28 Dec '15","w":6.2,"p":-15.5}],
"logoText":[{"label":"TradingView","w":18.2,"p":-6.2}],
"logoMark":[{"w":9.7,"p":-5.7}],
"logoCvr":[{"label":"CVR","w":6.2,"p":196.1}],
"pillMinus":[{"w":99.6,"p":196}],
"pillWave":[{"label":"≈","w":106.5,"p":196}],
"chevron":[{"w":8.3,"p":174}],
"gear":[{"w":573.3,"p":-15.8}],
"plus":[{"label":"+","w":555.4,"p":199.4}]
},
"encoding":{
"x":{"field":"w","type":"quantitative","title":null,"scale":{"domain":[-1.16,559.7],"nice":false,"zero":false,"padding":0},
"axis":{"values":[22.9,74.8,127.1,179.8,231.8,284.1,336,388,440.3,493,545.3],"labelExpr":"'' + (2016+round((datum.value-22.9)/52.2))","grid":true,"gridColor":"#f0f3fa","ticks":false,"domain":false,"labelColor":"#131722","labelFontSize":12,"labelPadding":9,"labelFont":"Noto Sans","labelOverlap":false,"labelFlush":false}}
},
"resolve":{"scale":{"y":"independent"}},
"layer":[
{"data":{"name":"bars"},"mark":{"type":"bar","size":1.3},
"encoding":{"y":{"field":"v","type":"quantitative","axis":null,"scale":{"domain":[0,7012],"nice":false}},
"color":{"condition":{"test":"datum.c>=datum.o","value":"#8fd0c4"},"value":"#f9a3a8"}}},
{"encoding":{"y":{"field":"p","type":"quantitative","title":null,"scale":{"domain":[-11.63,201.1],"nice":false,"zero":false},
"axis":{"values":[-10,0,10,20,30,40,50,60,70,80,90,100,110,120,130,140,150,160,170,180,190],"labelExpr":"datum.value==0?'0.0000':format(datum.value,'.2f')","grid":true,"gridColor":"#f0f3fa","ticks":false,"domain":false,"labelColor":"#131722","labelFontSize":12,"labelPadding":8,"labelFont":"Noto Sans","orient":"right","labelOverlap":false,"labelFlush":false}}},
"layer":[
{"data":{"name":"frame"},"mark":{"type":"line","color":"#e0e3eb","strokeWidth":1},"encoding":{"detail":{"field":"part"}}},
{"data":{"name":"bars"},"mark":{"type":"rule","strokeWidth":1},"encoding":{"y":{"field":"l","type":"quantitative","title":null,"scale":{"domain":[-11.63,201.1],"nice":false,"zero":false}},"y2":{"field":"h"},"color":{"condition":{"test":"datum.c>=datum.o","value":"#089981"},"value":"#f23645"}}},
{"data":{"name":"bars"},"mark":{"type":"bar","size":2.6},"encoding":{"y":{"field":"o","type":"quantitative","title":null,"scale":{"domain":[-11.63,201.1],"nice":false,"zero":false}},"y2":{"field":"c"},"color":{"condition":{"test":"datum.c>=datum.o","value":"#089981"},"value":"#f23645"}}},
{"data":{"name":"priceLine"},"mark":{"type":"line","color":"#f23645","strokeWidth":1.2,"strokeDash":[1.5,2.5]},"encoding":{}},
{"data":{"name":"trend"},"mark":{"type":"line","color":"#2962ff","strokeWidth":2.4},"encoding":{"detail":{"field":"line"}}},
{"data":{"name":"crosshair"},"mark":{"type":"line","color":"#8d909a","strokeWidth":1,"strokeDash":[5,3]},"encoding":{"detail":{"field":"part"}}},
{"data":{"name":"tagsRed"},"mark":{"type":"rect","color":"#f0525a","cornerRadius":2},"encoding":{"x2":{"field":"w2"},"y2":{"field":"p2"}}},
{"data":{"name":"tagsDark"},"mark":{"type":"rect","color":"#131722","cornerRadius":2},"encoding":{"x2":{"field":"w2"},"y2":{"field":"p2"}}},
{"data":{"name":"boxes"},"mark":{"type":"rect","fill":"#ffffff","strokeWidth":1,"cornerRadius":3},"encoding":{"x2":{"field":"w2"},"y2":{"field":"p2"},"stroke":{"field":"box","type":"nominal","legend":null,"scale":{"domain":["red","blue","grey"],"range":["#f23645","#2962ff","#d1d4dc"]}}}},
{"data":{"name":"pillGrey"},"mark":{"type":"rect","color":"#f0f3fa","cornerRadius":9},"encoding":{"x2":{"field":"w2"},"y2":{"field":"p2"}}},
{"data":{"name":"pillPink"},"mark":{"type":"rect","color":"#fbd1dc","cornerRadius":8},"encoding":{"x2":{"field":"w2"},"y2":{"field":"p2"}}},
{"data":{"name":"pillMinus"},"mark":{"type":"point","shape":"M-1,-0.3H1V0.3H-1Z","filled":true,"color":"#787b86","opacity":1,"size":64},"encoding":{}},
{"data":{"name":"pillWave"},"mark":{"type":"text","color":"#e91e63","fontSize":15,"fontWeight":"bold","align":"center","baseline":"middle"},"encoding":{"text":{"field":"label"}}},
{"data":{"name":"logoCvr"},"mark":{"type":"point","shape":"circle","filled":true,"color":"#eef2ea","opacity":1,"size":210},"encoding":{}},
{"data":{"name":"logoCvr"},"mark":{"type":"text","color":"#5a8f3c","fontSize":5,"fontWeight":"bold","align":"center","baseline":"middle"},"encoding":{"text":{"field":"label"}}},
{"data":{"name":"title"},"mark":{"type":"text","color":"#131722","fontSize":15,"align":"left","baseline":"middle"},"encoding":{"text":{"field":"label"}}},
{"data":{"name":"textDark"},"mark":{"type":"text","color":"#131722","fontSize":12,"align":"left","baseline":"middle"},"encoding":{"text":{"field":"label"}}},
{"data":{"name":"textRed"},"mark":{"type":"text","color":"#f23645","fontSize":12,"align":"left","baseline":"middle"},"encoding":{"text":{"field":"label"}}},
{"data":{"name":"textBlue"},"mark":{"type":"text","color":"#2962ff","fontSize":12,"align":"left","baseline":"middle"},"encoding":{"text":{"field":"label"}}},
{"data":{"name":"textWhite"},"mark":{"type":"text","color":"#ffffff","fontSize":11.5,"fontWeight":"bold","align":"left","baseline":"middle"},"encoding":{"text":{"field":"label"}}},
{"data":{"name":"dateTag"},"mark":{"type":"text","color":"#ffffff","fontSize":11,"fontWeight":"bold","align":"left","baseline":"middle"},"encoding":{"text":{"field":"label"}}},
{"data":{"name":"plus"},"mark":{"type":"point","shape":"circle","filled":false,"color":"#ffffff","opacity":1,"strokeWidth":1,"size":170},"encoding":{}},
{"data":{"name":"plus"},"mark":{"type":"text","color":"#ffffff","fontSize":13,"align":"center","baseline":"middle"},"encoding":{"text":{"field":"label"}}},
{"data":{"name":"chevron"},"mark":{"type":"point","shape":"M-1,0.5L0,-0.5L1,0.5","filled":false,"color":"#131722","opacity":1,"strokeWidth":1.5,"size":100},"encoding":{}},
{"data":{"name":"gear"},"mark":{"type":"point","shape":"M-1,0L-0.5,-0.87L0.5,-0.87L1,0L0.5,0.87L-0.5,0.87Z","filled":false,"color":"#131722","opacity":1,"strokeWidth":1,"size":260},"encoding":{}},
{"data":{"name":"gear"},"mark":{"type":"point","shape":"circle","filled":false,"color":"#131722","opacity":1,"strokeWidth":1,"size":20},"encoding":{}},
{"data":{"name":"logoMark"},"mark":{"type":"point","shape":"M-1,-0.53L-0.13,-0.53L-0.13,0.53L-0.53,0.53L-0.53,-0.13L-1,-0.13ZM0.53,-0.53L1,-0.53L0.47,0.53L0,0.53ZM0.07,-0.53A0.18,0.18,0,1,1,0.07,-0.17A0.18,0.18,0,1,1,0.07,-0.53Z","filled":true,"color":"#131722","opacity":1,"size":900},"encoding":{}},
{"data":{"name":"logoText"},"mark":{"type":"text","color":"#131722","fontSize":20.5,"fontWeight":500,"align":"left","baseline":"middle"},"encoding":{"text":{"field":"label"}}}
]}
]
}
